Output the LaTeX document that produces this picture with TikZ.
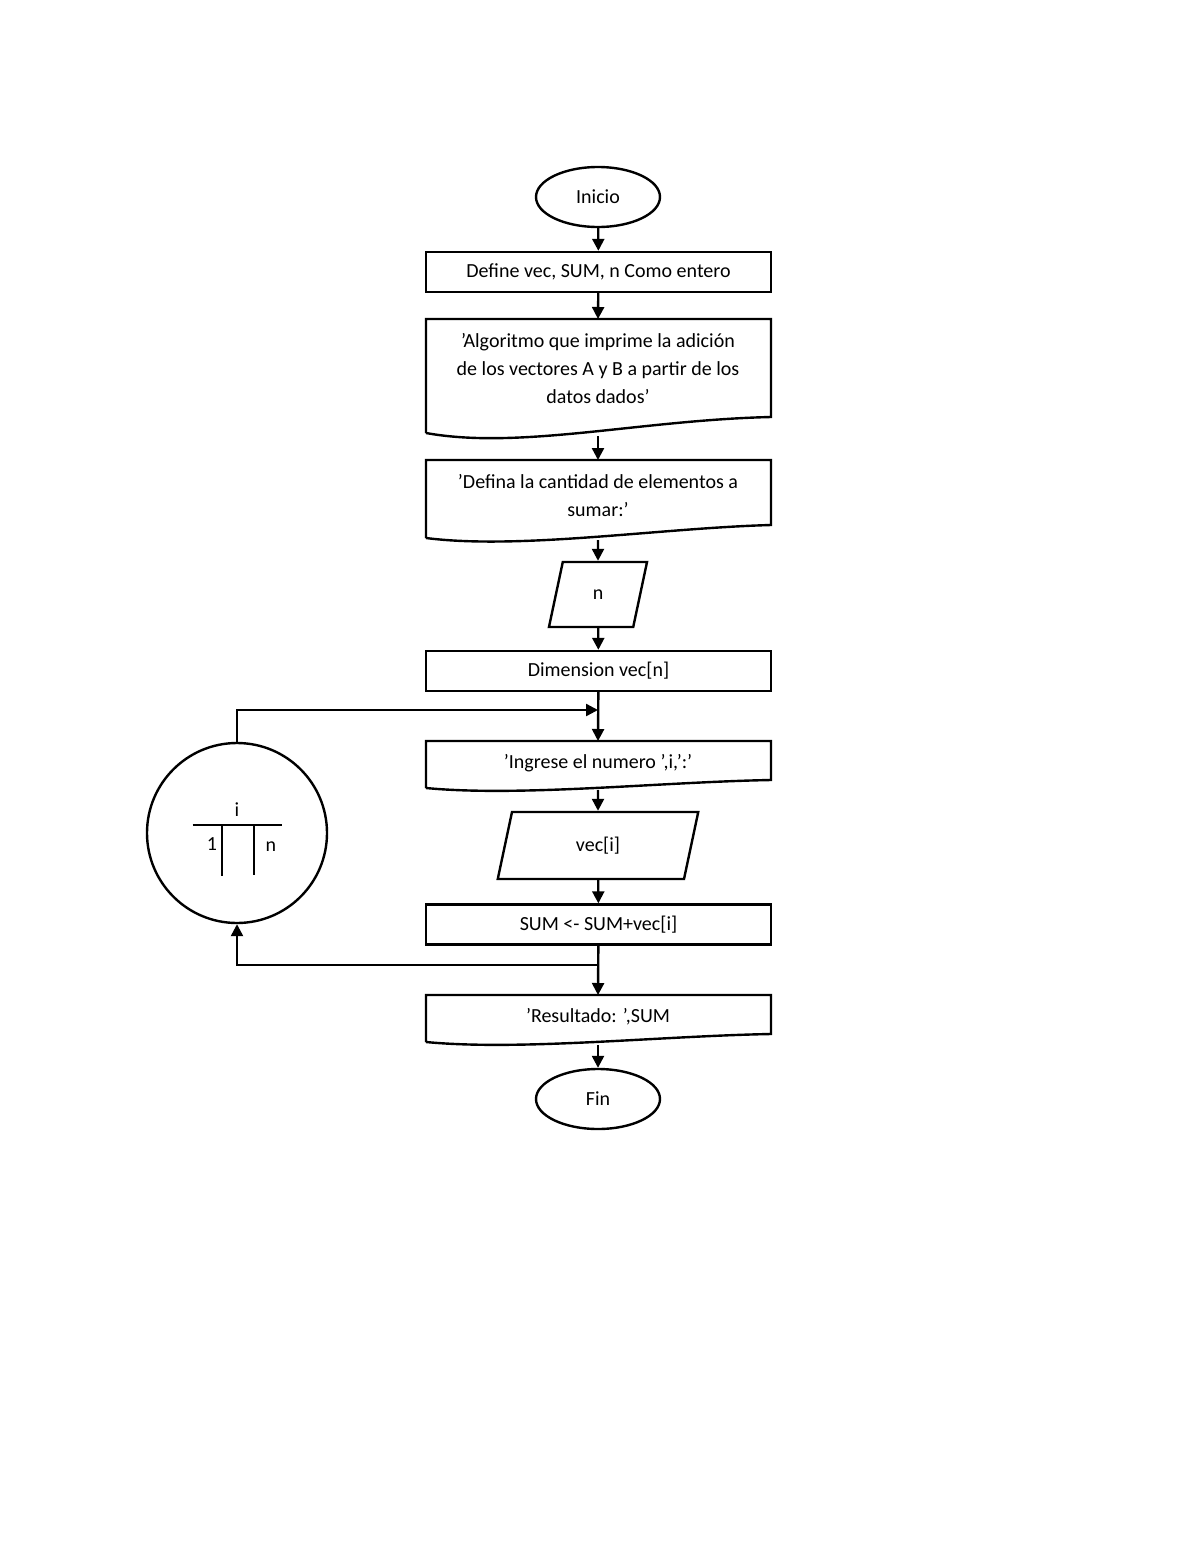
\documentclass[tikz,border=0pt]{standalone}
\usepackage{fontspec}
\setmainfont{Carlito}
\usetikzlibrary{shapes.geometric,arrows.meta}
\begin{document}
\begin{tikzpicture}[x=0.5pt,y=-0.5pt,
  every node/.style={font=\fontsize{10}{14}\selectfont},
  ln/.style={line width=1.2pt},
  box/.style={draw,ln,rectangle,minimum width=172.5pt,minimum height=20pt,inner sep=0pt},
  term/.style={draw,ln,ellipse,minimum width=62pt,minimum height=30pt,inner sep=0pt},
  io/.style={draw,ln,trapezium,trapezium left angle=78,trapezium right angle=102,inner sep=0pt},
  arr/.style={ln,-{Triangle[length=6pt,width=6pt]}}]
\useasboundingbox (0,0) rectangle (1200,1553);
% terminals and boxes
\node[term] (ini) at (598,197) {Inicio};
\node[box] (def) at (598.5,272) {Define vec, SUM, n Como entero};
\node[box] (dim) at (598.5,671) {Dimension vec[n]};
\node[box] (sum) at (598.5,924.5) {SUM <- SUM+vec[i]};
\node[term] (fin) at (598,1099) {Fin};
% documents
\draw[ln] (426,433) -- (426,319) -- (771,319) -- (771,417) .. controls (640,420) and (520,450) .. (426,433);
\node[align=center] (d1) at (598,369) {'Algoritmo que imprime la adición\\de los vectores A y B a partir de los\\datos dados'};
\coordinate (d1t) at (598,319); \coordinate (d1b) at (598,436);
\draw[ln] (426,538) -- (426,460) -- (771,460) -- (771,525) .. controls (660,528) and (520,550) .. (426,538);
\node[align=center] (d2) at (598,496) {'Defina la cantidad de elementos a\\sumar:'};
\coordinate (d2t) at (598,460); \coordinate (d2b) at (598,540);
\draw[ln] (426,788) -- (426,741) -- (771,741) -- (771,780) .. controls (660,782) and (520,797) .. (426,788);
\node (d3) at (598,763) {'Ingrese el numero ',i,':'};
\coordinate (d3t) at (598,741); \coordinate (d3b) at (598,790);
\draw[ln] (426,1042) -- (426,995) -- (771,995) -- (771,1034) .. controls (660,1036) and (520,1051) .. (426,1042);
\node (d4) at (598,1017) {'Resultado: ',SUM};
\coordinate (d4t) at (598,995); \coordinate (d4b) at (598,1045);
% io
\node[io,minimum width=35pt,minimum height=32.5pt] (n) at (598,594.5) {n};
\node[io,minimum width=59pt,minimum height=33.5pt] (v) at (598,845.5) {vec[i]};
% loop circle
\node[draw,ln,circle,minimum size=90pt*0.5*2,inner sep=0pt] (c) at (237,833) {};
\draw[line width=0.9pt] (192.5,825) -- (281.5,825);
\draw[line width=0.9pt] (222,825) -- (222,875.5);
\draw[line width=0.9pt] (254,825) -- (254,875);
\node at (237,810) {i};
\node at (212,844) {1};
\node at (271,847) {n};
% arrows
\draw[arr] (ini) -- (def);
\draw[arr] (def) -- (d1t);
\draw[arr] (d1b) -- (d2t);
\draw[arr] (d2b) -- (n);
\draw[arr] (n) -- (dim);
\draw[arr] (dim) -- (d3t);
\draw[arr] (d3b) -- (v);
\draw[arr] (v) -- (sum);
\draw[arr] (sum) -- (d4t);
\draw[arr] (d4b) -- (fin);
\coordinate (lt) at (598,710);
\coordinate (lb) at (598,965);
\draw[arr] (c.north) |- (lt);
\draw[arr] (lb) -| (c.south);
\end{tikzpicture}
\end{document}
